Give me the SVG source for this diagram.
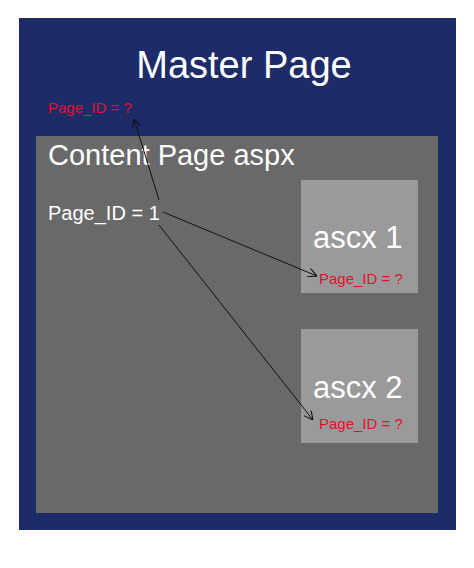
<svg xmlns="http://www.w3.org/2000/svg" width="474" height="568" viewBox="0 0 474 568">
<style>
text{font-family:"Liberation Sans",Arial,sans-serif}
.w{fill:#ffffff}
.r{fill:#e3102b;font-size:15px}
.box{fill:#9a9a9a}
.conn{stroke:#111111;stroke-width:1;fill:none;marker-end:url(#ah)}
</style>
<defs>
<marker id="ah" viewBox="0 0 10 10" refX="10" refY="5" markerWidth="9" markerHeight="9" markerUnits="userSpaceOnUse" orient="auto">
<path d="M0,0 L10,5 L0,10" fill="none" stroke="#111111" stroke-width="1.2"/>
</marker>
</defs>
<rect width="474" height="568" fill="#ffffff"/>
<g id="master">
<rect x="19" y="18" width="437" height="512" fill="#1e2b69"/>
<text class="w" x="244" y="78" font-size="38" text-anchor="middle">Master Page</text>
<text class="r" x="48" y="113">Page_ID = ?</text>
</g>
<g id="content">
<rect x="36" y="136" width="402" height="377" fill="#696969"/>
<text class="w" x="48" y="165" font-size="29">Content Page aspx</text>
<text class="w" x="48" y="220" font-size="20">Page_ID = 1</text>
</g>
<g id="ascx1">
<rect class="box" x="301" y="180" width="117" height="113"/>
<text class="w" x="313" y="248" font-size="31">ascx 1</text>
<text class="r" x="319" y="284">Page_ID = ?</text>
</g>
<g id="ascx2">
<rect class="box" x="301" y="329" width="117" height="114"/>
<text class="w" x="313" y="398" font-size="31">ascx 2</text>
<text class="r" x="319" y="429">Page_ID = ?</text>
</g>
<g id="connectors">
<line class="conn" x1="159" y1="200" x2="134" y2="119"/>
<line class="conn" x1="163" y1="212" x2="317" y2="276"/>
<line class="conn" x1="159" y1="225" x2="313" y2="420"/>
</g>
</svg>
